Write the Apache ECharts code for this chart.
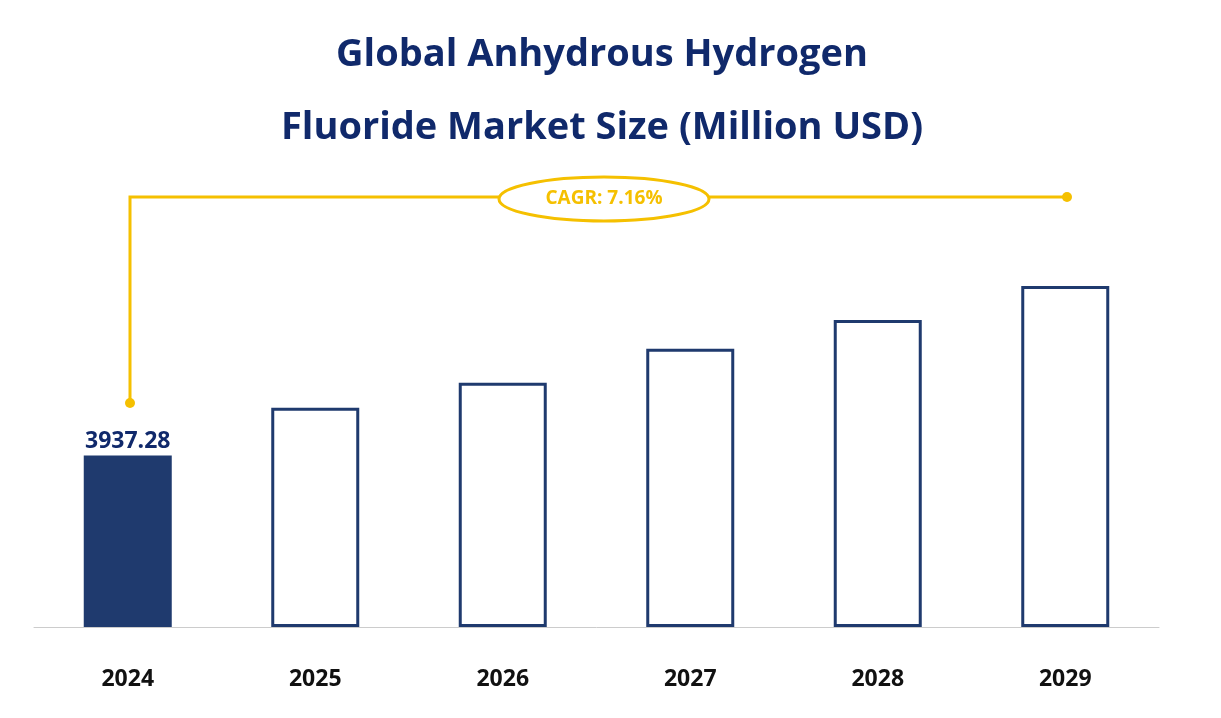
<!DOCTYPE html>
<html><head><meta charset="utf-8">
<script src="https://cdn.jsdelivr.net/npm/echarts@6/dist/echarts.min.js"></script>
<style>html,body{margin:0;padding:0;background:#fff}#c{width:1221px;height:718px}</style>
</head><body><div id="c"></div>
<script>
const categories = ['2024','2025','2026','2027','2028','2029'];
const values = [3937.28, 5035, 5608, 6386, 7050, 7828];
const titleLines = ['Global Anhydrous Hydrogen', 'Fluoride Market Size (Million USD)'];
const cagrText = 'CAGR: 7.16%';
const navy = '#1f3a6e', gold = '#f5c000';
const chart = echarts.init(document.getElementById('c'));
chart.setOption({
  animation:false,
  title:{text:titleLines.join('\n'),left:597,top:14,textAlign:'center',
    textStyle:{fontFamily:'Open Sans',fontWeight:'bold',fontSize:38,color:'#10296b',lineHeight:73,align:'center'}},
  grid:{left:34,right:62,top:170,bottom:91},
  xAxis:{type:'category',data:categories,
    axisLine:{lineStyle:{color:'#cccccc',width:1}},axisTick:{show:false},
    axisLabel:{margin:41,fontFamily:'Open Sans',fontWeight:'bold',fontSize:23,color:'#111'}},
  yAxis:{type:'value',min:0,max:10491,show:false,splitLine:{show:false}},
  series:[{type:'bar',barWidth:88,
    data:values.map((v,i)=>({value:v,
      itemStyle:i===0?{color:navy,borderColor:navy,borderWidth:0}:{color:'#fff',borderColor:navy,borderWidth:3},
      label:{show:i===0,position:'top',distance:3,formatter:'{c}',fontFamily:'Open Sans',fontWeight:'bold',fontSize:23,color:'#10296b'}}))}],
  graphic:[
    {type:'polyline',shape:{points:[[130,403],[130,197],[1067,197]]},style:{stroke:gold,lineWidth:3,fill:null}},
    {type:'circle',shape:{cx:130,cy:403,r:5},style:{fill:gold}},
    {type:'circle',shape:{cx:1067,cy:197,r:5},style:{fill:gold}},
    {type:'ellipse',shape:{cx:604,cy:199,rx:105,ry:22},style:{fill:'#fff',stroke:gold,lineWidth:3}},
    {type:'text',x:604,y:199,style:{text:cagrText,align:'center',verticalAlign:'middle',fontFamily:'Open Sans',fontWeight:'bold',fontSize:19,fill:gold}}
  ]
});
</script></body></html>
